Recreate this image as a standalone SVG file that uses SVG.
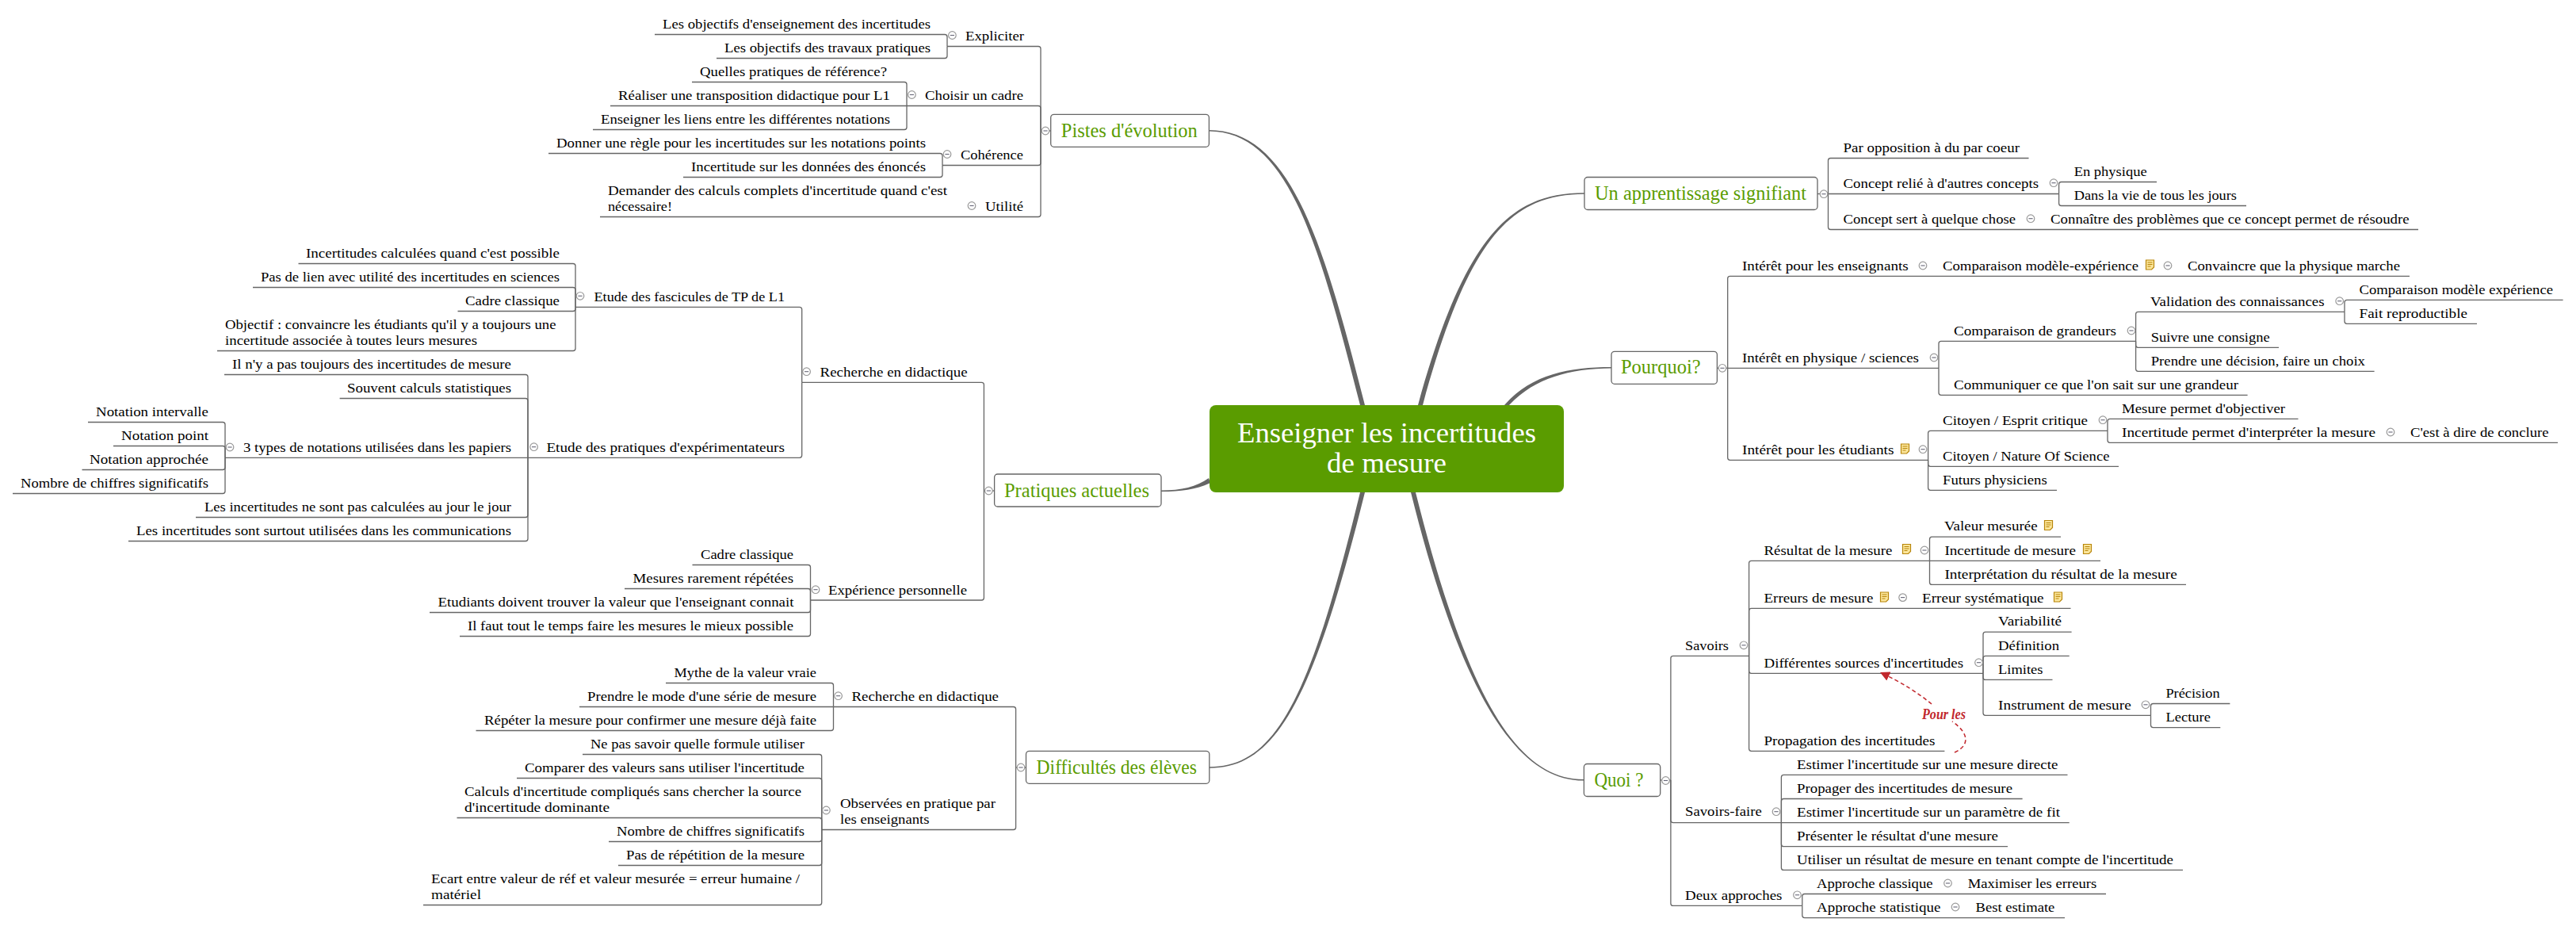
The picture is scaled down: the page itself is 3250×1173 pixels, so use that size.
<svg xmlns="http://www.w3.org/2000/svg" xmlns:xlink="http://www.w3.org/1999/xlink" width="3250" height="1173" viewBox="0 0 3250 1173">
<style>
text{font-family:"Liberation Serif","Times New Roman",serif;font-size:17.5px;fill:#000}
text:not([class]){transform:translateY(.7px)}
.l{fill:none;stroke:#666;stroke-width:1.3}
.c{fill:#666;stroke:none}
.b{fill:#fff;stroke:#666;stroke-width:1.3}
text.g{font-size:25px;fill:#5a9c00}
text.w{font-size:35px;fill:#fff}
text.r{font-size:18px;font-weight:bold;font-style:italic;fill:#c1272d}
.d{fill:none;stroke:#c1272d;stroke-width:1.6;stroke-dasharray:5 3.5}
</style>
<defs>
<g id="m"><circle r="4.8" fill="#fff" stroke="#999" stroke-width="1.2"/><path d="M-2.6,0H2.6" stroke="#667" stroke-width="1.1"/></g>
<g id="o"><path d="M0.5,0.5H10.5V9.5L7.5,12.5H0.5Z" fill="#fbe59a" stroke="#b8860b" stroke-width="1.2"/><path d="M2.5,3.5H8.5M2.5,6H8.5M2.5,8.5H6.5" stroke="#b8860b" stroke-width="1"/></g>
<marker id="a" markerUnits="userSpaceOnUse" markerWidth="13" markerHeight="12" refX="12" refY="6" orient="auto"><path d="M0,0L12,6L0,12Z" fill="#c1272d"/></marker>
</defs>
<rect width="3250" height="1173" fill="#fff"/>
<g id="connectors">
<path class="c" d="M1525,164C1626,164 1668,298 1722,511L1716,511C1663,302 1624,166 1525,165.6Z"/>
<path class="c" d="M1999,243.3C1905,243 1848,298 1789,511L1795,511C1852,302 1905,245 1999,244.7Z"/>
<path class="c" d="M2033,463C1980,463 1932,472 1898,511L1904,511C1936,477 1980,465 2033,464.6Z"/>
<path class="c" d="M1465,618.5C1490,618.5 1510,614 1525,603L1527,609C1510,617 1490,620 1465,620Z"/>
<path class="c" d="M1526,967.3C1610,967 1653,880 1716,621L1722,621C1657,882 1610,969 1526,968.7Z"/>
<path class="c" d="M1998,983C1914,983 1851,880 1786,621L1780,621C1845,882 1916,985 1998,984.6Z"/>
<g class="l">
<path d="M1313,165H1325.7"/>
<path d="M1313,165V61.5Q1313,58.5 1310,58.5H1195"/>
<path d="M1313,165V136.5Q1313,133.5 1310,133.5H1144"/>
<path d="M1313,165V205.5Q1313,208.5 1310,208.5H1189"/>
<path d="M1313,165V270.5Q1313,273.5 1310,273.5H757"/>
<path d="M1195,58.5V46.5Q1195,43.5 1192,43.5H826"/>
<path d="M1195,58.5V70.5Q1195,73.5 1192,73.5H904"/>
<path d="M1144,133.5V106.5Q1144,103.5 1141,103.5H873"/>
<path d="M1144,133.5H770"/>
<path d="M1144,133.5V160.5Q1144,163.5 1141,163.5H748"/>
<path d="M1189,208.5V196.5Q1189,193.5 1186,193.5H692"/>
<path d="M1189,208.5V220.5Q1189,223.5 1186,223.5H862"/>
<path d="M1241.4,619H1254.6"/>
<path d="M1241.4,619V485.3Q1241.4,482.3 1238.4,482.3H1011.7"/>
<path d="M1241.4,619V754Q1241.4,757 1238.4,757H1022.5"/>
<path d="M1011.7,482.3V390.3Q1011.7,387.3 1008.7,387.3H726"/>
<path d="M1011.7,482.3V574.3Q1011.7,577.3 1008.7,577.3H666"/>
<path d="M726,387.3V335.5Q726,332.5 723,332.5H376.5"/>
<path d="M726,387.3V365.5Q726,362.5 723,362.5H319"/>
<path d="M726,387.3V389.5Q726,392.5 723,392.5H577.5"/>
<path d="M726,387.3V439.5Q726,442.5 723,442.5H274"/>
<path d="M666,577.3V475.5Q666,472.5 663,472.5H283"/>
<path d="M666,577.3V505.5Q666,502.5 663,502.5H428.6"/>
<path d="M666,577.3H284"/>
<path d="M666,577.3V649.5Q666,652.5 663,652.5H247"/>
<path d="M666,577.3V679.5Q666,682.5 663,682.5H162"/>
<path d="M284,577.3V535.5Q284,532.5 281,532.5H111"/>
<path d="M284,577.3V565.5Q284,562.5 281,562.5H143"/>
<path d="M284,577.3V589.5Q284,592.5 281,592.5H103.5"/>
<path d="M284,577.3V619.5Q284,622.5 281,622.5H16"/>
<path d="M1022.5,757V715.5Q1022.5,712.5 1019.5,712.5H873.5"/>
<path d="M1022.5,757V745.5Q1022.5,742.5 1019.5,742.5H788"/>
<path d="M1022.5,757V769.5Q1022.5,772.5 1019.5,772.5H542"/>
<path d="M1022.5,757V799.5Q1022.5,802.5 1019.5,802.5H580"/>
<path d="M1281.6,968H1294.5"/>
<path d="M1281.6,968V894.5Q1281.6,891.5 1278.6,891.5H1051.5"/>
<path d="M1281.6,968V1043.5Q1281.6,1046.5 1278.6,1046.5H1036.7"/>
<path d="M1051.5,891.5V864.5Q1051.5,861.5 1048.5,861.5H840"/>
<path d="M1051.5,891.5H731"/>
<path d="M1051.5,891.5V918.5Q1051.5,921.5 1048.5,921.5H600.5"/>
<path d="M1036.7,1046.5V954.5Q1036.7,951.5 1033.7,951.5H735"/>
<path d="M1036.7,1046.5V984.5Q1036.7,981.5 1033.7,981.5H652"/>
<path d="M1036.7,1046.5V1034.5Q1036.7,1031.5 1033.7,1031.5H576.5"/>
<path d="M1036.7,1046.5V1058.5Q1036.7,1061.5 1033.7,1061.5H768"/>
<path d="M1036.7,1046.5V1088.5Q1036.7,1091.5 1033.7,1091.5H780"/>
<path d="M1036.7,1046.5V1138.5Q1036.7,1141.5 1033.7,1141.5H534"/>
<path d="M2293,244.5H2306.5"/>
<path d="M2306.5,244.5V202.5Q2306.5,199.5 2309.5,199.5H2559.5"/>
<path d="M2306.5,244.5H2597.6"/>
<path d="M2306.5,244.5V286.5Q2306.5,289.5 2309.5,289.5H3051"/>
<path d="M2597.6,244.5V232.5Q2597.6,229.5 2600.6,229.5H2721"/>
<path d="M2597.6,244.5V256.5Q2597.6,259.5 2600.6,259.5H2834"/>
<path d="M2166.4,464.3H2179.7"/>
<path d="M2179.7,464.3V351.3Q2179.7,348.3 2182.7,348.3H3040"/>
<path d="M2179.7,464.3H2446"/>
<path d="M2179.7,464.3V577.3Q2179.7,580.3 2182.7,580.3H2432.6"/>
<path d="M2446,464.3V433.3Q2446,430.3 2449,430.3H2694.6"/>
<path d="M2446,464.3V495.3Q2446,498.3 2449,498.3H2835.6"/>
<path d="M2694.6,430.3V396.3Q2694.6,393.3 2697.6,393.3H2958"/>
<path d="M2694.6,430.3V435.3Q2694.6,438.3 2697.6,438.3H2875"/>
<path d="M2694.6,430.3V465.3Q2694.6,468.3 2697.6,468.3H2995.6"/>
<path d="M2958,393.3V381.3Q2958,378.3 2961,378.3H3233.6"/>
<path d="M2958,393.3V405.3Q2958,408.3 2961,408.3H3125"/>
<path d="M2432.6,580.3V546.3Q2432.6,543.3 2435.6,543.3H2659"/>
<path d="M2432.6,580.3V585.3Q2432.6,588.3 2435.6,588.3H2673"/>
<path d="M2432.6,580.3V615.3Q2432.6,618.3 2435.6,618.3H2595"/>
<path d="M2659,543.3V531.3Q2659,528.3 2662,528.3H2899.5"/>
<path d="M2659,543.3V555.3Q2659,558.3 2662,558.3H3227"/>
<path d="M2094.7,984H2107.9"/>
<path d="M2107.9,984V830.3Q2107.9,827.3 2110.9,827.3H2206.6"/>
<path d="M2107.9,984V1034.6Q2107.9,1037.6 2110.9,1037.6H2247.4"/>
<path d="M2107.9,984V1139.4Q2107.9,1142.4 2110.9,1142.4H2273.8"/>
<path d="M2206.6,827.3V710.3Q2206.6,707.3 2209.6,707.3H2434.5"/>
<path d="M2206.6,827.3V770.4Q2206.6,767.4 2209.6,767.4H2612.5"/>
<path d="M2206.6,827.3V846.3Q2206.6,849.3 2209.6,849.3H2502"/>
<path d="M2206.6,827.3V944.3Q2206.6,947.3 2209.6,947.3H2453.4"/>
<path d="M2434.5,707.3V680.2Q2434.5,677.2 2437.5,677.2H2600"/>
<path d="M2434.5,707.3H2650"/>
<path d="M2434.5,707.3V734.4Q2434.5,737.4 2437.5,737.4H2758"/>
<path d="M2502,849.3V800.2Q2502,797.2 2505,797.2H2613.6"/>
<path d="M2502,849.3V830.3Q2502,827.3 2505,827.3H2610.7"/>
<path d="M2502,849.3V854.4Q2502,857.4 2505,857.4H2589.5"/>
<path d="M2502,849.3V899.3Q2502,902.3 2505,902.3H2713.5"/>
<path d="M2713.5,902.3V890.5Q2713.5,887.5 2716.5,887.5H2813.4"/>
<path d="M2713.5,902.3V914.6Q2713.5,917.6 2716.5,917.6H2801.3"/>
<path d="M2247.4,1037.6V980.4Q2247.4,977.4 2250.4,977.4H2608.5"/>
<path d="M2247.4,1037.6V1010.5Q2247.4,1007.5 2250.4,1007.5H2551.6"/>
<path d="M2247.4,1037.6H2610.7"/>
<path d="M2247.4,1037.6V1064.7Q2247.4,1067.7 2250.4,1067.7H2533"/>
<path d="M2247.4,1037.6V1094.4Q2247.4,1097.4 2250.4,1097.4H2754"/>
<path d="M2273.8,1142.4V1130.5Q2273.8,1127.5 2276.8,1127.5H2657"/>
<path d="M2273.8,1142.4V1154.6Q2273.8,1157.6 2276.8,1157.6H2605"/>
</g>
<path class="d" d="M2466,949C2484,941 2486,926 2463,910"/>
<path class="d" marker-end="url(#a)" d="M2437,888C2420,874 2400,861 2372,848"/>
</g>
<g id="center"><rect x="1526" y="511" width="447" height="110" rx="8" fill="#5a9c00"/><text class="w" x="1561" y="558" textLength="377" lengthAdjust="spacingAndGlyphs">Enseigner les incertitudes</text><text class="w" x="1674" y="596" textLength="151" lengthAdjust="spacingAndGlyphs">de mesure</text></g>
<g id="pistes"><rect class="b" x="1325.7" y="144.3" width="199.7" height="41" rx="4"/><text class="g" x="1338.8" y="172.7" textLength="172" lengthAdjust="spacingAndGlyphs">Pistes d'évolution</text><use href="#m" x="1319" y="165"/></g>
<g id="explic"><text x="1218" y="50" textLength="74" lengthAdjust="spacingAndGlyphs">Expliciter</text><use href="#m" x="1201.4" y="44.5"/></g>
<g id="n1"><text x="836" y="35" textLength="338" lengthAdjust="spacingAndGlyphs">Les objectifs d'enseignement des incertitudes</text></g>
<g id="n2"><text x="914" y="65" textLength="260" lengthAdjust="spacingAndGlyphs">Les objectifs des travaux pratiques</text></g>
<g id="choisir"><text x="1167" y="125" textLength="124" lengthAdjust="spacingAndGlyphs">Choisir un cadre</text><use href="#m" x="1150.4" y="119.5"/></g>
<g id="n3"><text x="883" y="95" textLength="236" lengthAdjust="spacingAndGlyphs">Quelles pratiques de référence?</text></g>
<g id="n4"><text x="780" y="125" textLength="343" lengthAdjust="spacingAndGlyphs">Réaliser une transposition didactique pour L1</text></g>
<g id="n5"><text x="758" y="155" textLength="365" lengthAdjust="spacingAndGlyphs">Enseigner les liens entre les différentes notations</text></g>
<g id="coher"><text x="1212" y="200" textLength="79" lengthAdjust="spacingAndGlyphs">Cohérence</text><use href="#m" x="1195" y="194.5"/></g>
<g id="n6"><text x="702" y="185" textLength="466" lengthAdjust="spacingAndGlyphs">Donner une règle pour les incertitudes sur les notations points</text></g>
<g id="n7"><text x="872" y="215" textLength="296" lengthAdjust="spacingAndGlyphs">Incertitude sur les données des énoncés</text></g>
<g id="utilite"><text x="1243" y="265" textLength="48" lengthAdjust="spacingAndGlyphs">Utilité</text><use href="#m" x="1226" y="259.5"/></g>
<g id="n8"><text x="767" y="245" textLength="428" lengthAdjust="spacingAndGlyphs">Demander des calculs complets d'incertitude quand c'est</text><text x="767" y="265" textLength="81" lengthAdjust="spacingAndGlyphs">nécessaire!</text></g>
<g id="pratiques"><rect class="b" x="1254.6" y="598" width="210.4" height="41" rx="4"/><text class="g" x="1267" y="626.7" textLength="183" lengthAdjust="spacingAndGlyphs">Pratiques actuelles</text><use href="#m" x="1247.4" y="619"/></g>
<g id="rech1"><text x="1034.6" y="474" textLength="186" lengthAdjust="spacingAndGlyphs">Recherche en didactique</text><use href="#m" x="1017.6" y="468.7"/></g>
<g id="fasc"><text x="749.5" y="379" textLength="240.5" lengthAdjust="spacingAndGlyphs">Etude des fascicules de TP de L1</text><use href="#m" x="732" y="373.3"/></g>
<g id="n9"><text x="386" y="324" textLength="320" lengthAdjust="spacingAndGlyphs">Incertitudes calculées quand c'est possible</text></g>
<g id="n10"><text x="329" y="354" textLength="377" lengthAdjust="spacingAndGlyphs">Pas de lien avec utilité des incertitudes en sciences</text></g>
<g id="n11"><text x="587" y="384" textLength="119" lengthAdjust="spacingAndGlyphs">Cadre classique</text></g>
<g id="n12"><text x="284" y="414" textLength="417.5" lengthAdjust="spacingAndGlyphs">Objectif : convaincre les étudiants qu'il y a toujours une</text><text x="284" y="434" textLength="318" lengthAdjust="spacingAndGlyphs">incertitude associée à toutes leurs mesures</text></g>
<g id="prat"><text x="689.4" y="569" textLength="300.6" lengthAdjust="spacingAndGlyphs">Etude des pratiques d'expérimentateurs</text><use href="#m" x="673.6" y="563.7"/></g>
<g id="n13"><text x="293" y="464" textLength="352" lengthAdjust="spacingAndGlyphs">Il n'y a pas toujours des incertitudes de mesure</text></g>
<g id="n14"><text x="438" y="494" textLength="207" lengthAdjust="spacingAndGlyphs">Souvent calculs statistiques</text></g>
<g id="n15"><text x="307" y="569" textLength="338" lengthAdjust="spacingAndGlyphs">3 types de notations utilisées dans les papiers</text><use href="#m" x="290" y="564"/></g>
<g id="n16"><text x="121" y="524" textLength="142" lengthAdjust="spacingAndGlyphs">Notation intervalle</text></g>
<g id="n17"><text x="153" y="554" textLength="110" lengthAdjust="spacingAndGlyphs">Notation point</text></g>
<g id="n18"><text x="113" y="584" textLength="150" lengthAdjust="spacingAndGlyphs">Notation approchée</text></g>
<g id="n19"><text x="26" y="614" textLength="237" lengthAdjust="spacingAndGlyphs">Nombre de chiffres significatifs</text></g>
<g id="n20"><text x="258" y="644" textLength="387" lengthAdjust="spacingAndGlyphs">Les incertitudes ne sont pas calculées au jour le jour</text></g>
<g id="n21"><text x="172" y="674" textLength="473" lengthAdjust="spacingAndGlyphs">Les incertitudes sont surtout utilisées dans les communications</text></g>
<g id="exp"><text x="1045" y="749" textLength="175" lengthAdjust="spacingAndGlyphs">Expérience personnelle</text><use href="#m" x="1029" y="743.7"/></g>
<g id="n22"><text x="884" y="704" textLength="117" lengthAdjust="spacingAndGlyphs">Cadre classique</text></g>
<g id="n23"><text x="798.5" y="734" textLength="202.5" lengthAdjust="spacingAndGlyphs">Mesures rarement répétées</text></g>
<g id="n24"><text x="552.5" y="764" textLength="449" lengthAdjust="spacingAndGlyphs">Etudiants doivent trouver la valeur que l'enseignant connait</text></g>
<g id="n25"><text x="590" y="794" textLength="411" lengthAdjust="spacingAndGlyphs">Il faut tout le temps faire les mesures le mieux possible</text></g>
<g id="diffic"><rect class="b" x="1294.5" y="947.3" width="231.3" height="41" rx="4"/><text class="g" x="1307.6" y="976" textLength="202.4" lengthAdjust="spacingAndGlyphs">Difficultés des élèves</text><use href="#m" x="1288" y="968"/></g>
<g id="rech2"><text x="1074.5" y="883" textLength="185.5" lengthAdjust="spacingAndGlyphs">Recherche en didactique</text><use href="#m" x="1057.6" y="877.7"/></g>
<g id="n26"><text x="850.5" y="853" textLength="179.5" lengthAdjust="spacingAndGlyphs">Mythe de la valeur vraie</text></g>
<g id="n27"><text x="741" y="883" textLength="289" lengthAdjust="spacingAndGlyphs">Prendre le mode d'une série de mesure</text></g>
<g id="n28"><text x="611" y="913" textLength="419" lengthAdjust="spacingAndGlyphs">Répéter la mesure pour confirmer une mesure déjà faite</text></g>
<g id="obs"><text x="1060" y="1018" textLength="196" lengthAdjust="spacingAndGlyphs">Observées en pratique par</text><text x="1060" y="1038" textLength="112.5" lengthAdjust="spacingAndGlyphs">les enseignants</text><use href="#m" x="1042.4" y="1022"/></g>
<g id="n29"><text x="745" y="943" textLength="270" lengthAdjust="spacingAndGlyphs">Ne pas savoir quelle formule utiliser</text></g>
<g id="n30"><text x="662" y="973" textLength="353" lengthAdjust="spacingAndGlyphs">Comparer des valeurs sans utiliser l'incertitude</text></g>
<g id="n31"><text x="586" y="1003" textLength="425" lengthAdjust="spacingAndGlyphs">Calculs d'incertitude compliqués sans chercher la source</text><text x="586" y="1023" textLength="183" lengthAdjust="spacingAndGlyphs">d'incertitude dominante</text></g>
<g id="n32"><text x="778" y="1053" textLength="237" lengthAdjust="spacingAndGlyphs">Nombre de chiffres significatifs</text></g>
<g id="n33"><text x="790" y="1083" textLength="225" lengthAdjust="spacingAndGlyphs">Pas de répétition de la mesure</text></g>
<g id="n34"><text x="544" y="1113" textLength="465" lengthAdjust="spacingAndGlyphs">Ecart entre valeur de réf et valeur mesurée = erreur humaine /</text><text x="544" y="1133" textLength="63" lengthAdjust="spacingAndGlyphs">matériel</text></g>
<g id="appr"><rect class="b" x="1999" y="223.5" width="294" height="41" rx="4"/><text class="g" x="2012" y="251.7" textLength="267" lengthAdjust="spacingAndGlyphs">Un apprentissage signifiant</text><use href="#m" x="2301" y="244.7"/></g>
<g id="n35"><text x="2325.6" y="191" textLength="222.4" lengthAdjust="spacingAndGlyphs">Par opposition à du par coeur</text></g>
<g id="n36"><text x="2325.6" y="236" textLength="246.4" lengthAdjust="spacingAndGlyphs">Concept relié à d'autres concepts</text><use href="#m" x="2591" y="230.7"/></g>
<g id="n37"><text x="2616.7" y="221" textLength="92" lengthAdjust="spacingAndGlyphs">En physique</text></g>
<g id="n38"><text x="2616.7" y="251" textLength="205.3" lengthAdjust="spacingAndGlyphs">Dans la vie de tous les jours</text></g>
<g id="n39"><text x="2325.6" y="281" textLength="217.4" lengthAdjust="spacingAndGlyphs">Concept sert à quelque chose</text><use href="#m" x="2562" y="275.7"/></g>
<g id="n40"><text x="2587" y="281" textLength="452.6" lengthAdjust="spacingAndGlyphs">Connaître des problèmes que ce concept permet de résoudre</text></g>
<g id="pourquoi"><rect class="b" x="2033" y="443.3" width="133.4" height="41" rx="4"/><text class="g" x="2045" y="471" textLength="100.7" lengthAdjust="spacingAndGlyphs">Pourquoi?</text><use href="#m" x="2173" y="464.3"/></g>
<g id="n41"><text x="2198" y="340" textLength="209.7" lengthAdjust="spacingAndGlyphs">Intérêt pour les enseignants</text><use href="#m" x="2426" y="335"/></g>
<g id="n42"><text x="2451" y="340" textLength="247" lengthAdjust="spacingAndGlyphs">Comparaison modèle-expérience</text><use href="#o" x="2707" y="327.5"/><use href="#m" x="2735" y="335"/></g>
<g id="n43"><text x="2760" y="340" textLength="268" lengthAdjust="spacingAndGlyphs">Convaincre que la physique marche</text></g>
<g id="n44"><text x="2198" y="456" textLength="223" lengthAdjust="spacingAndGlyphs">Intérêt en physique / sciences</text><use href="#m" x="2440" y="451"/></g>
<g id="n45"><text x="2465" y="422" textLength="205" lengthAdjust="spacingAndGlyphs">Comparaison de grandeurs</text><use href="#m" x="2689" y="417"/></g>
<g id="n46"><text x="2713" y="385" textLength="219.6" lengthAdjust="spacingAndGlyphs">Validation des connaissances</text><use href="#m" x="2951.7" y="379.7"/></g>
<g id="n47"><text x="2976.5" y="370" textLength="244.5" lengthAdjust="spacingAndGlyphs">Comparaison modèle expérience</text></g>
<g id="n48"><text x="2976.5" y="400" textLength="136.5" lengthAdjust="spacingAndGlyphs">Fait reproductible</text></g>
<g id="n49"><text x="2713.7" y="430" textLength="150" lengthAdjust="spacingAndGlyphs">Suivre une consigne</text></g>
<g id="n50"><text x="2713.7" y="460" textLength="270.3" lengthAdjust="spacingAndGlyphs">Prendre une décision, faire un choix</text></g>
<g id="n51"><text x="2465" y="490" textLength="359" lengthAdjust="spacingAndGlyphs">Communiquer ce que l'on sait sur une grandeur</text></g>
<g id="n52"><text x="2198" y="572" textLength="191.5" lengthAdjust="spacingAndGlyphs">Intérêt pour les étudiants</text><use href="#o" x="2398" y="559.5"/><use href="#m" x="2426" y="566.7"/></g>
<g id="n53"><text x="2451" y="535" textLength="183" lengthAdjust="spacingAndGlyphs">Citoyen / Esprit critique</text><use href="#m" x="2653" y="529.7"/></g>
<g id="n54"><text x="2677" y="520" textLength="206" lengthAdjust="spacingAndGlyphs">Mesure permet d'objectiver</text></g>
<g id="n55"><text x="2677" y="550" textLength="320" lengthAdjust="spacingAndGlyphs">Incertitude permet d'interpréter la mesure</text><use href="#m" x="3016" y="545"/></g>
<g id="n56"><text x="3041" y="550" textLength="174.5" lengthAdjust="spacingAndGlyphs">C'est à dire de conclure</text></g>
<g id="n57"><text x="2451" y="580" textLength="210.4" lengthAdjust="spacingAndGlyphs">Citoyen / Nature Of Science</text></g>
<g id="n58"><text x="2451" y="610" textLength="131.7" lengthAdjust="spacingAndGlyphs">Futurs physiciens</text></g>
<g id="quoi"><rect class="b" x="1998.4" y="963.5" width="96.3" height="41" rx="4"/><text class="g" x="2011.4" y="991.6" textLength="62" lengthAdjust="spacingAndGlyphs">Quoi ?</text><use href="#m" x="2101.5" y="984.5"/></g>
<g id="n59"><text x="2126" y="819.2" textLength="55" lengthAdjust="spacingAndGlyphs">Savoirs</text><use href="#m" x="2200" y="813.8"/></g>
<g id="n60"><text x="2225.5" y="699.2" textLength="161.9" lengthAdjust="spacingAndGlyphs">Résultat de la mesure</text><use href="#o" x="2400" y="686"/><use href="#m" x="2428" y="694"/></g>
<g id="n61"><text x="2453" y="668.7" textLength="117.6" lengthAdjust="spacingAndGlyphs">Valeur mesurée</text><use href="#o" x="2579" y="656"/></g>
<g id="n62"><text x="2453.4" y="699.2" textLength="165.6" lengthAdjust="spacingAndGlyphs">Incertitude de mesure</text><use href="#o" x="2628" y="686"/></g>
<g id="n63"><text x="2453.4" y="729" textLength="293.4" lengthAdjust="spacingAndGlyphs">Interprétation du résultat de la mesure</text></g>
<g id="n64"><text x="2225.5" y="759" textLength="137.8" lengthAdjust="spacingAndGlyphs">Erreurs de mesure</text><use href="#o" x="2372" y="746.5"/><use href="#m" x="2400.6" y="753.6"/></g>
<g id="n65"><text x="2425" y="759" textLength="153.6" lengthAdjust="spacingAndGlyphs">Erreur systématique</text><use href="#o" x="2591" y="746.5"/></g>
<g id="n66"><text x="2225.5" y="841" textLength="251.5" lengthAdjust="spacingAndGlyphs">Différentes sources d'incertitudes</text><use href="#m" x="2496.5" y="835.7"/></g>
<g id="n67"><text x="2521" y="788.7" textLength="80" lengthAdjust="spacingAndGlyphs">Variabilité</text></g>
<g id="n68"><text x="2521" y="819.2" textLength="77" lengthAdjust="spacingAndGlyphs">Définition</text></g>
<g id="n69"><text x="2521" y="849" textLength="56.4" lengthAdjust="spacingAndGlyphs">Limites</text></g>
<g id="n70"><text x="2521" y="893.9" textLength="167.8" lengthAdjust="spacingAndGlyphs">Instrument de mesure</text><use href="#m" x="2707" y="888.8"/></g>
<g id="n71"><text x="2732.4" y="879" textLength="68.3" lengthAdjust="spacingAndGlyphs">Précision</text></g>
<g id="n72"><text x="2732.4" y="909" textLength="56.6" lengthAdjust="spacingAndGlyphs">Lecture</text></g>
<g id="n73"><text x="2225.5" y="939.2" textLength="215.9" lengthAdjust="spacingAndGlyphs">Propagation des incertitudes</text></g>
<g id="n74"><text x="2126" y="1028.8" textLength="96.7" lengthAdjust="spacingAndGlyphs">Savoirs-faire</text><use href="#m" x="2241" y="1023.7"/></g>
<g id="n75"><text x="2267" y="968.9" textLength="329.4" lengthAdjust="spacingAndGlyphs">Estimer l'incertitude sur une mesure directe</text></g>
<g id="n76"><text x="2267" y="999" textLength="272" lengthAdjust="spacingAndGlyphs">Propager des incertitudes de mesure</text></g>
<g id="n77"><text x="2267" y="1029" textLength="332" lengthAdjust="spacingAndGlyphs">Estimer l'incertitude sur un paramètre de fit</text></g>
<g id="n78"><text x="2267" y="1059.2" textLength="254" lengthAdjust="spacingAndGlyphs">Présenter le résultat d'une mesure</text></g>
<g id="n79"><text x="2267" y="1089.3" textLength="475" lengthAdjust="spacingAndGlyphs">Utiliser un résultat de mesure en tenant compte de l'incertitude</text></g>
<g id="n80"><text x="2126" y="1134" textLength="122.5" lengthAdjust="spacingAndGlyphs">Deux approches</text><use href="#m" x="2267.5" y="1128.8"/></g>
<g id="n81"><text x="2292" y="1119" textLength="146.5" lengthAdjust="spacingAndGlyphs">Approche classique</text><use href="#m" x="2457.5" y="1114"/></g>
<g id="n82"><text x="2482.7" y="1119" textLength="162.5" lengthAdjust="spacingAndGlyphs">Maximiser les erreurs</text></g>
<g id="n83"><text x="2292" y="1149" textLength="156.3" lengthAdjust="spacingAndGlyphs">Approche statistique</text><use href="#m" x="2467" y="1144"/></g>
<g id="n84"><text x="2492.5" y="1149" textLength="99.9" lengthAdjust="spacingAndGlyphs">Best estimate</text></g>
<g id="rel"><text class="r" x="2425" y="906.7" textLength="55" lengthAdjust="spacingAndGlyphs">Pour les</text></g>
</svg>
